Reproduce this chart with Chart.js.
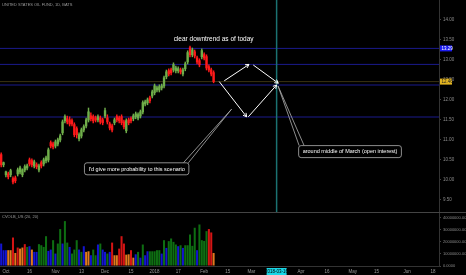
<!DOCTYPE html>
<html>
<head>
<meta charset="utf-8">
<script src="https://cdn.jsdelivr.net/npm/chart.js@4.4.1/dist/chart.umd.min.js"></script>
<style>
  html, body { margin: 0; padding: 0; background: #000; }
</style>
</head>
<body>
<canvas id="grafico" width="466" height="275"></canvas>
<script>
// ---------------- DATOS ----------------
const opens  = [10.63,10.38,10.13,10.15,10.13,10.03,10.05,10.15,10.20,10.13,10.25,10.30,10.50,10.48,10.35,10.38,10.25,10.43,10.40,10.48,
                10.50,10.93,10.90,10.85,10.90,11.00,11.18,11.48,11.53,11.50,11.48,11.38,11.28,11.03,11.10,11.25,11.35,11.50,11.60,11.58,
                11.55,11.50,11.55,11.50,11.60,11.55,11.40,11.35,11.43,11.58,11.55,11.58,11.45,11.23,11.50,11.53,11.53,11.58,11.55,11.60,
                11.70,11.90,11.93,12.05,12.10,12.18,12.25,12.25,12.30,12.35,12.58,12.73,12.75,12.75,12.73,12.73,12.75,12.65,12.78,12.95,
                13.30,13.13,13.20,13.05,12.98,13.08,13.13,13.08,12.83,12.75,12.68];
const highs  = [10.68,10.45,10.22,10.20,10.27,10.08,10.10,10.30,10.35,10.28,10.38,10.40,10.55,10.53,10.50,10.43,10.40,10.48,10.55,10.60,
                10.80,10.98,10.95,11.00,11.05,11.15,11.50,11.63,11.60,11.58,11.53,11.43,11.33,11.18,11.30,11.38,11.55,11.80,11.68,11.63,
                11.60,11.63,11.60,11.55,11.80,11.63,11.45,11.40,11.55,11.63,11.60,11.63,11.50,11.53,11.55,11.58,11.65,11.70,11.68,11.75,
                11.98,12.00,12.05,12.10,12.25,12.40,12.35,12.38,12.40,12.60,12.75,12.78,12.80,12.93,12.85,12.83,12.80,12.80,12.95,13.23,
                13.35,13.30,13.25,13.10,13.03,13.28,13.18,13.13,12.88,12.80,12.73];
const lows   = [10.33,10.33,10.08,10.03,10.08,9.90,9.93,10.10,10.15,10.08,10.20,10.25,10.35,10.33,10.30,10.28,10.20,10.30,10.35,10.43,
                10.45,10.80,10.78,10.80,10.85,10.95,11.13,11.43,11.40,11.35,11.35,11.08,11.05,10.98,11.05,11.20,11.30,11.45,11.48,11.43,
                11.45,11.45,11.40,11.38,11.55,11.40,11.25,11.20,11.38,11.45,11.43,11.38,11.28,11.18,11.38,11.43,11.48,11.53,11.50,11.55,
                11.65,11.85,11.88,11.93,12.05,12.13,12.20,12.20,12.25,12.30,12.53,12.60,12.63,12.70,12.68,12.68,12.65,12.60,12.73,12.90,
                13.08,13.08,13.05,12.90,12.83,13.03,13.00,12.75,12.70,12.60,12.43];
const closes = [10.38,10.43,10.20,10.08,10.23,9.95,9.98,10.25,10.30,10.25,10.33,10.35,10.40,10.38,10.45,10.33,10.35,10.35,10.50,10.55,
                10.75,10.85,10.83,10.95,11.00,11.10,11.45,11.58,11.45,11.40,11.40,11.13,11.13,11.13,11.25,11.33,11.50,11.70,11.53,11.48,
                11.50,11.58,11.45,11.43,11.73,11.45,11.30,11.25,11.50,11.50,11.48,11.43,11.33,11.48,11.43,11.48,11.60,11.65,11.63,11.70,
                11.93,11.95,12.00,11.98,12.20,12.35,12.30,12.33,12.35,12.55,12.70,12.65,12.68,12.88,12.80,12.78,12.70,12.75,12.90,13.18,
                13.13,13.25,13.10,12.95,12.88,13.23,13.05,12.80,12.75,12.65,12.46];
// volumen en millones
const volumes = [18.6,13.1,13.1,13.1,13.1,23.6,10.8,15.3,14.4,15.3,18.1,15.8,16.4,13.6,11.7,11.7,18.1,17.2,15.8,24.7,
                 12.5,13.6,21.4,10.3,18.6,30.6,18.6,37.2,19.4,15.8,10.3,13.6,21.4,13.6,11.7,16.4,11.7,12.2,8.9,13.6,
                 8.9,17.8,18.6,13.6,11.7,10.3,11.7,19.4,8.9,8.9,14.4,24.7,18.6,9.4,9.7,13.1,6.9,9.7,11.7,6.9,
                 17.8,8.9,12.2,12.2,12.2,12.2,13.1,13.1,10.3,21.4,15.0,20.6,22.8,20.0,17.8,16.4,17.2,15.0,17.2,17.2,
                 26.1,16.7,31.7,13.1,34.4,21.4,20.8,28.9,30.6,27.8,10.8];
const volColors = ['b','b','b','o','o','r','o','r','o','o','r','g','b','o','b','b','g','g','g','g',
                   'b','b','g','b','g','g','b','g','g','b','g','g','g','b','g','b','o','o','b','g',
                   'g','b','g','b','b','g','b','r','o','o','r','r','r','o','o','r','o','b','g','b',
                   'g','b','b','g','g','g','g','g','b','g','b','g','g','g','g','b','g','b','g','g',
                   'g','g','g','b','g','g','g','g','r','r','o'];
const totalBars = 186;
const tickIdx  = [2, 12, 23, 34, 44, 55, 65, 75, 86, 96, 106, 127, 138, 149, 159, 172, 183];
const tickText = ['Oct','16','Nov','13','Dec','15','2018','17','Feb','15','Mar','Apr','16','May','15','Jun','18'];
const priceTicks = [9.5, 10, 10.5, 11, 11.5, 12, 12.5, 13, 13.5, 14];
const volTicks = [0, 10, 20, 30, 40];
const niveles = [13.29, 12.89, 12.375, 11.575];
const ultimoPrecio = 12.46;
const marcaIdx = 116.7;
const marcaTexto = '2018-03-16';
const titulo = 'UNITED STATES OIL FUND, 1D, BATS';
const indicador = 'CVOLB_US (20, 20)';
const rotulo = 'clear downtrend as of today';
// flechas: [idx desde, precio desde, idx hasta, precio hasta]
const flechas = [
  [94.5, 12.48, 105.0, 12.89],
  [106.8, 12.875, 117.4, 12.42],
  [92.4, 12.46, 104.0, 11.58],
  [104.7, 11.58, 116.7, 12.375]
];
const notas = [
  {texto: "I'd give more probability to this scenario", centro: [57.4, 10.28], punta: [97.6, 11.77]},
  {texto: 'around middle of March (open interest)', centro: [147.8, 10.71], punta: [117.3, 12.35]}
];

// ---------------- CONFIG ----------------
const subida = '#6fae4a', bajada = '#ff1a1a';
const paletaVol = {b: '#1414d2', g: '#0e6e12', r: '#d41414', o: '#e07a1e'};

var labels = [];
for (let i = 0; i < totalBars; i++) labels.push('');
tickIdx.forEach((k, j) => { labels[k] = tickText[j]; });

var coloresVela = opens.map((o, i) => closes[i] >= o ? subida : bajada);
var mechas = lows.map((l, i) => [l, highs[i]]);
var cuerpos = opens.map((o, i) => [Math.min(o, closes[i]), Math.max(o, closes[i]) + 0.005]);

function flecha(ctx, x1, y1, x2, y2) {
    ctx.beginPath();
    ctx.moveTo(x1, y1);
    ctx.lineTo(x2, y2);
    let a = Math.atan2(y2 - y1, x2 - x1);
    ctx.moveTo(x2, y2);
    ctx.lineTo(x2 - 4 * Math.cos(a - 0.5), y2 - 4 * Math.sin(a - 0.5));
    ctx.moveTo(x2, y2);
    ctx.lineTo(x2 - 4 * Math.cos(a + 0.5), y2 - 4 * Math.sin(a + 0.5));
    ctx.stroke();
}

function cajaRedonda(ctx, x, y, w, h, r) {
    ctx.beginPath();
    ctx.moveTo(x + r, y);
    ctx.arcTo(x + w, y, x + w, y + h, r);
    ctx.arcTo(x + w, y + h, x, y + h, r);
    ctx.arcTo(x, y + h, x, y, r);
    ctx.arcTo(x, y, x + w, y, r);
    ctx.closePath();
}

// quita el relleno que chart.js reserva para medias etiquetas
function sinRelleno(s) {
    s.paddingTop = 0; s.paddingBottom = 0; s.paddingLeft = 0; s.paddingRight = 0;
}

const fondo = {
    id: 'fondo',
    beforeDraw(chart) {
        let ctx = chart.ctx;
        ctx.save();
        ctx.fillStyle = '#000';
        ctx.fillRect(0, 0, chart.width, chart.height);
        ctx.restore();
    },
    beforeDatasetsDraw(chart) {
        let ctx = chart.ctx, sx = chart.scales.x, sy = chart.scales.y;
        let area = chart.chartArea;
        ctx.save();
        // linea precio actual
        ctx.strokeStyle = '#3a3212';
        ctx.lineWidth = 1;
        let yp = sy.getPixelForValue(ultimoPrecio);
        ctx.beginPath(); ctx.moveTo(area.left, yp); ctx.lineTo(area.right, yp); ctx.stroke();
        // niveles azules
        ctx.strokeStyle = '#1a1a8c';
        niveles.forEach(n => {
            let y = sy.getPixelForValue(n);
            ctx.beginPath(); ctx.moveTo(area.left, y); ctx.lineTo(area.right, y); ctx.stroke();
        });
        // linea vertical
        let xm = sx.getPixelForValue(marcaIdx);
        ctx.strokeStyle = '#1b7272';
        ctx.lineWidth = 1.5;
        ctx.beginPath(); ctx.moveTo(xm, sy.top); ctx.lineTo(xm, sy.bottom); ctx.stroke();
        ctx.restore();
    },
    afterDraw(chart) {
        let ctx = chart.ctx, sx = chart.scales.x, sy = chart.scales.y, sv = chart.scales.v;
        let area = chart.chartArea;
        ctx.save();
        // separador de paneles
        ctx.strokeStyle = '#444';
        ctx.lineWidth = 1;
        ctx.beginPath(); ctx.moveTo(0, sv.top + 0.5); ctx.lineTo(chart.width, sv.top + 0.5); ctx.stroke();

        ctx.font = '4px "Liberation Sans", sans-serif';
        ctx.fillStyle = '#9a9a9a';
        ctx.textBaseline = 'middle';
        ctx.fillText(titulo, 2, 5);
        ctx.fillText(indicador, 2, sv.top + 5);

        // rotulo
        ctx.font = '6.5px "Liberation Sans", sans-serif';
        ctx.fillStyle = '#fff';
        ctx.textAlign = 'center';
        ctx.fillText(rotulo, sx.getPixelForValue(90), sy.getPixelForValue(13.52));

        // flechas
        ctx.strokeStyle = '#fff';
        ctx.lineWidth = 1;
        flechas.forEach(f => {
            flecha(ctx, sx.getPixelForValue(f[0]), sy.getPixelForValue(f[1]),
                   sx.getPixelForValue(f[2]), sy.getPixelForValue(f[3]));
        });

        // notas
        ctx.font = '5.5px "Liberation Sans", sans-serif';
        notas.forEach(n => {
            let cx = sx.getPixelForValue(n.centro[0]), cy = sy.getPixelForValue(n.centro[1]);
            let tx = sx.getPixelForValue(n.punta[0]), ty = sy.getPixelForValue(n.punta[1]);
            let w = ctx.measureText(n.texto).width + 8, h = 12;
            let x0 = cx - w / 2, y0 = cy - h / 2;
            let esquina = tx > cx ? x0 + w - 3 : x0 + 3;
            ctx.strokeStyle = '#b0b0b0';
            ctx.lineWidth = 0.8;
            ctx.beginPath();
            ctx.moveTo(esquina - 2.5, y0); ctx.lineTo(tx, ty);
            ctx.moveTo(esquina + 2.5, y0); ctx.lineTo(tx, ty);
            ctx.stroke();
            cajaRedonda(ctx, x0, y0, w, h, 2.5);
            ctx.fillStyle = '#000';
            ctx.fill();
            ctx.stroke();
            ctx.fillStyle = '#fff';
            ctx.textAlign = 'center';
            ctx.fillText(n.texto, cx, cy + 0.3);
        });

        // etiquetas eje derecho
        ctx.font = '4.5px "Liberation Sans", sans-serif';
        ctx.textAlign = 'left';
        let yb = sy.getPixelForValue(niveles[0]);
        ctx.fillStyle = '#1c1cf0';
        ctx.fillRect(area.right + 1, yb - 3, 12, 6);
        ctx.fillStyle = '#fff';
        ctx.fillText(niveles[0].toFixed(2), area.right + 2.5, yb + 0.3);
        let yy = sy.getPixelForValue(ultimoPrecio);
        ctx.fillStyle = '#e3b521';
        ctx.fillRect(area.right + 1, yy - 3, 12, 6);
        ctx.fillStyle = '#222';
        ctx.fillText(ultimoPrecio.toFixed(2), area.right + 2.5, yy + 0.3);

        // marca de fecha
        let xm = sx.getPixelForValue(marcaIdx);
        ctx.fillStyle = '#19d6e6';
        ctx.fillRect(xm - 10, area.bottom + 2, 20, 7);
        ctx.fillStyle = '#000';
        ctx.textAlign = 'center';
        ctx.fillText(marcaTexto, xm, area.bottom + 5.7);
        ctx.restore();
    }
};

new Chart(document.getElementById('grafico'), {
    type: 'bar',
    data: {
        labels: labels,
        datasets: [
            {data: mechas, backgroundColor: coloresVela, barThickness: 0.8, grouped: false, yAxisID: 'y'},
            {data: cuerpos, backgroundColor: coloresVela, barThickness: 1.7, grouped: false, yAxisID: 'y'},
            {data: volumes, backgroundColor: volColors.map(c => paletaVol[c]), barPercentage: 0.86, categoryPercentage: 1, grouped: false, yAxisID: 'v'}
        ]
    },
    options: {
        responsive: false,
        animation: false,
        events: [],
        layout: {padding: 0},
        plugins: {legend: {display: false}, tooltip: {enabled: false}},
        scales: {
            x: {
                afterFit: s => { s.height = 9; sinRelleno(s); },
                grid: {display: false, drawTicks: false},
                border: {display: true, color: '#333'},
                ticks: {autoSkip: false, maxRotation: 0, color: '#9a9a9a', font: {size: 4.5, family: 'Liberation Sans'}, padding: 3}
            },
            y: {
                position: 'right', stack: 'paneles', stackWeight: 212,
                min: 9.2, max: 14.5,
                afterFit: s => { s.width = 27; sinRelleno(s); },
                afterBuildTicks: s => { s.ticks = priceTicks.map(v => ({value: v})); },
                grid: {drawOnChartArea: false, drawTicks: true, tickLength: 2, color: '#444'},
                border: {display: true, color: '#333'},
                ticks: {autoSkip: false, color: '#8a8a8a', font: {size: 4.5, family: 'Liberation Sans'}, padding: 2, callback: v => v.toFixed(2)}
            },
            v: {
                position: 'right', stack: 'paneles', stackWeight: 54,
                min: 0, max: 44.75,
                afterFit: s => { s.width = 27; sinRelleno(s); },
                afterBuildTicks: s => { s.ticks = volTicks.map(v => ({value: v})); },
                grid: {drawOnChartArea: false, drawTicks: true, tickLength: 2, color: '#444'},
                border: {display: true, color: '#333'},
                ticks: {autoSkip: false, color: '#8a8a8a', font: {size: 4, family: 'Liberation Sans'}, padding: 2, callback: v => (v * 1000000).toFixed(4)}
            }
        }
    },
    plugins: [fondo]
});
</script>
</body>
</html>
